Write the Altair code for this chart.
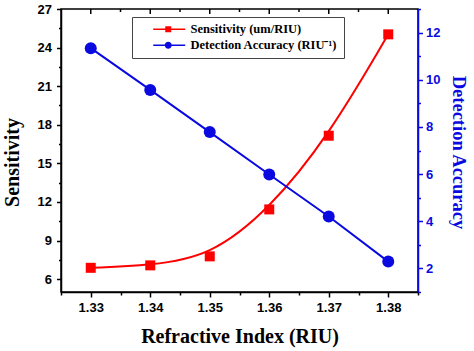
import altair as alt
import pandas as pd

# ---- data ----
ri = [1.33, 1.34, 1.35, 1.36, 1.37, 1.38]
sensitivity = [6.88, 7.07, 7.77, 11.42, 17.15, 25.03]
accuracy = [11.34, 9.57, 7.78, 5.98, 4.20, 2.29]
series_names = ["Sensitivity (um/RIU)", "Detection Accuracy (RIU\u207b\u00b9)"]

x_ticks = [1.325, 1.33, 1.335, 1.34, 1.345, 1.35, 1.355, 1.36, 1.365, 1.37, 1.375, 1.38, 1.385]
x_top_major = [1.33, 1.34, 1.35, 1.36, 1.37, 1.38]
x_top_minor = [1.335, 1.345, 1.355, 1.365, 1.375]
left_ticks = [6, 7.5, 9, 10.5, 12, 13.5, 15, 16.5, 18, 19.5, 21, 22.5, 24, 25.5, 27]
right_ticks = [1, 2, 3, 4, 5, 6, 7, 8, 9, 10, 11, 12, 13]

RED = "#ff0000"
BLUE = "#0a0ae0"
W, H = 357, 283

df = pd.DataFrame({"ri": ri, "sens": sensitivity, "acc": accuracy})
legend_df = pd.DataFrame({"series": series_names, "ri": [ri[0]] * 2, "v": [sensitivity[0]] * 2})
top_major_df = pd.DataFrame({"ri": x_top_major})
top_minor_df = pd.DataFrame({"ri": x_top_minor})

xscale = alt.Scale(domain=[1.325, 1.385], nice=False, zero=False)
minor_x = "round(datum.value*1000) % 10 != 0"

x_axis = alt.Axis(
    orient="bottom",
    values=x_ticks,
    labelExpr=f"{minor_x} ? '' : format(datum.value, '.2f')",
    tickSize={"condition": {"test": minor_x, "value": 3}, "value": 5},
    title="Refractive Index (RIU)", titleX=W / 2, titleY=44,
    titleAlign="center", titleBaseline="middle",
    labelPadding=4, grid=False, domain=True,
)
x_enc = alt.X("ri:Q", scale=xscale, axis=x_axis)

sens_scale = alt.Scale(domain=[5, 27], nice=False, zero=False)
acc_scale = alt.Scale(domain=[1, 13], nice=False, zero=False)

left_axis = alt.Axis(
    orient="left", values=left_ticks,
    labelExpr="datum.value % 3 != 0 ? '' : format(datum.value, 'd')",
    tickSize={"condition": {"test": "datum.value % 3 != 0", "value": 2.5}, "value": 4.5},
    title="Sensitivity", titleX=-49, titleY=153, titleAngle=-90,
    titleAlign="center", titleBaseline="middle", labelPadding=5, grid=False,
)
right_axis = alt.Axis(
    orient="right", values=right_ticks,
    labelExpr="datum.value % 2 != 0 ? '' : format(datum.value, 'd')",
    tickSize={"condition": {"test": "datum.value % 2 != 0", "value": 2.5}, "value": 4.5},
    title="Detection Accuracy", titleX=40, titleY=143, titleAngle=90,
    titleFontSize=18.5,
    titleAlign="center", titleBaseline="middle", labelPadding=3, grid=False,
    domainColor=BLUE, tickColor=BLUE, labelColor=BLUE, titleColor=BLUE, zindex=1,
)

sens_line = alt.Chart(df).mark_line(color=RED, strokeWidth=2, interpolate="basis").encode(
    x=x_enc, y=alt.Y("sens:Q", scale=sens_scale, axis=left_axis))
sens_pts = alt.Chart(df).mark_square(color=RED, size=100, opacity=1).encode(
    x=x_enc, y=alt.Y("sens:Q", scale=sens_scale, axis=None))
acc_line = alt.Chart(df).mark_line(color=BLUE, strokeWidth=2).encode(
    x=x_enc, y=alt.Y("acc:Q", scale=acc_scale, axis=right_axis))
acc_pts = alt.Chart(df).mark_circle(color=BLUE, size=144, opacity=1).encode(
    x=x_enc, y=alt.Y("acc:Q", scale=acc_scale, axis=None))

top_major = alt.Chart(top_major_df).mark_rule(color="black", strokeWidth=1.5).encode(
    x=x_enc, y=alt.value(0), y2=alt.value(5))
top_minor = alt.Chart(top_minor_df).mark_rule(color="black", strokeWidth=1.5).encode(
    x=x_enc, y=alt.value(0), y2=alt.value(3))

sq_path = "M1.5,-0.125H6.83V0.125H1.5Z M3.5,-0.5H4.5V0.5H3.5Z"
ci_path = "M1.5,-0.125H6.83V0.125H1.5Z M3.42,0A0.58,0.58,0,1,1,4.58,0A0.58,0.58,0,1,1,3.42,0Z"

leg = alt.Legend(
    title=None, orient="none", legendX=71, legendY=8,
    strokeColor="#444444", fillColor="white", padding=6,
    symbolSize=144, symbolOpacity=1, symbolStrokeWidth=0,
    labelFont="Liberation Serif", labelFontWeight="bold", labelFontSize=12.5,
    labelColor="black", labelOffset=40, rowPadding=3,
)
legend_layer = alt.Chart(legend_df).mark_point(filled=True, opacity=0).encode(
    x=x_enc,
    y=alt.Y("v:Q", scale=sens_scale, axis=None),
    color=alt.Color("series:N", scale=alt.Scale(domain=series_names, range=[RED, BLUE]), legend=leg),
    shape=alt.Shape("series:N", scale=alt.Scale(domain=series_names, range=[sq_path, ci_path]), legend=leg),
)

chart = alt.layer(
    sens_line, sens_pts, acc_line, acc_pts, top_major, top_minor, legend_layer
).resolve_scale(y="independent").properties(
    width=W, height=H, background="white",
    autosize=alt.AutoSizeParams(type="none"),
    padding={"left": 61, "top": 9, "right": 56, "bottom": 59},
).configure_view(
    stroke="black", strokeWidth=1.5
).configure_axis(
    labelFont="Liberation Sans", labelFontWeight="bold", labelFontSize=13, labelColor="black",
    titleFont="Liberation Serif", titleFontWeight="bold", titleFontSize=20, titleColor="black",
    domainColor="black", domainWidth=1.5, tickColor="black", tickWidth=1.5,
)

chart.save("out.html", embed_options={"renderer": "svg", "actions": False})
